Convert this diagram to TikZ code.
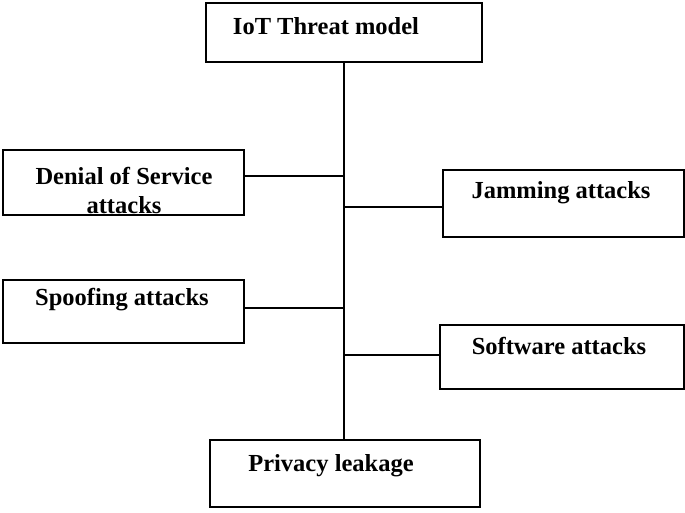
\documentclass[tikz,border=0pt]{standalone}
\usepackage{fontspec}
\setmainfont{Liberation Serif}
\begin{document}
\begin{tikzpicture}[x=1pt,y=-1pt,
  box/.style={draw,line width=1.8pt,inner sep=0pt},
  lbl/.style={font=\bfseries\fontsize{24.5}{29}\selectfont,align=center,inner sep=0pt},
  conn/.style={line width=1.6pt}]
\useasboundingbox (0,0) rectangle (685,512);
\newcommand{\bx}[5]{\node[box,minimum width=#3pt,minimum height=#4pt] (#5) at (#1,#2) {};}
\bx{344}{32.5}{276}{59}{top}
\bx{123.5}{182.5}{241}{65}{dos}
\bx{563.5}{203.5}{241}{67}{jam}
\bx{123.5}{311.5}{241}{63}{spo}
\bx{562}{357}{244}{64}{sof}
\bx{345}{473.5}{270}{67}{pri}
\node[lbl] (ttop) at (326,26) {IoT Threat model};
\node[lbl] (tdos) at (124,190) {Denial of Service\\attacks};
\node[lbl] (tjam) at (561,193) {Jamming attacks};
\node[lbl] (tspo) at (122,300) {Spoofing attacks};
\node[lbl] (tsof) at (559,346) {Software attacks};
\node[lbl] (tpri) at (331,466) {Privacy leakage};
\coordinate (a) at (344,176);
\coordinate (b) at (344,207);
\coordinate (c) at (344,308);
\coordinate (d) at (344,355);
\draw[conn] (top.south -| a) -- (pri.north -| a);
\draw[conn] (dos.east |- a) -- (a);
\draw[conn] (b) -- (jam.west |- b);
\draw[conn] (spo.east |- c) -- (c);
\draw[conn] (d) -- (sof.west |- d);
\end{tikzpicture}
\end{document}
